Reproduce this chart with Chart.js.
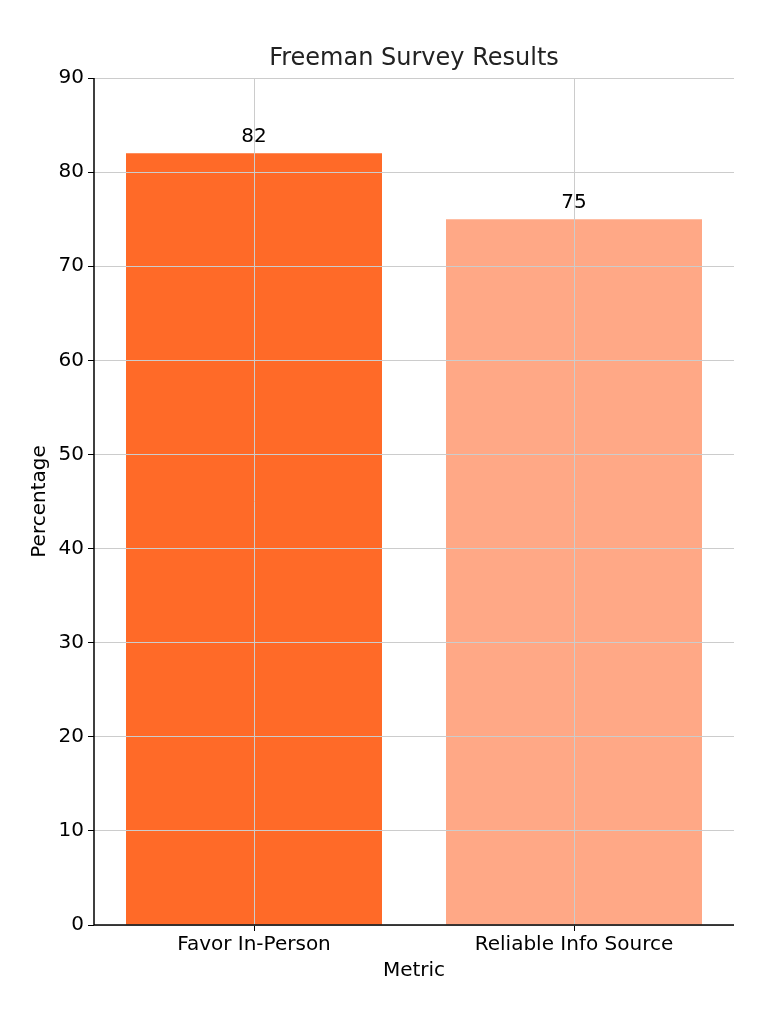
<!DOCTYPE html>
<html><head><meta charset="utf-8">
<script src="https://cdn.jsdelivr.net/npm/chart.js@4"></script>
<style>html,body{margin:0;padding:0;background:#fff}#w{width:772px;height:1020px}</style>
</head><body><div id="w"><canvas id="c"></canvas></div>
<script>
const categories = ["Favor In-Person", "Reliable Info Source"];
const values = [82, 75];
const barColors = ["#FF6A28", "#FFA886"];
const yTicks = [0,10,20,30,40,50,60,70,80,90];
const titleText = "Freeman Survey Results";
const xLabel = "Metric", yLabel = "Percentage";
const F = "'DejaVu Sans', sans-serif";

const deco = {
  id: 'deco',
  afterDraw(chart) {
    const ctx = chart.ctx;
    const meta = chart.getDatasetMeta(0);
    const ca = chart.chartArea;
    ctx.save();
    ctx.fillStyle = '#000';
    ctx.font = "20px " + F;
    ctx.textAlign = 'center';
    ctx.textBaseline = 'bottom';
    meta.data.forEach((b, i) => ctx.fillText(String(values[i]), b.x, b.y - 6));
    ctx.textBaseline = 'middle';
    ctx.fillText(xLabel, (ca.left + ca.right) / 2, 971);
    ctx.save();
    ctx.translate(40, (ca.top + ca.bottom) / 2);
    ctx.rotate(-Math.PI / 2);
    ctx.fillText(yLabel, 0, 0);
    ctx.restore();
    ctx.fillStyle = '#222';
    ctx.font = "24px " + F;
    ctx.fillText(titleText, (ca.left + ca.right) / 2, 59);
    ctx.strokeStyle = '#000';
    ctx.lineWidth = 1.5;
    ctx.beginPath();
    ctx.moveTo(ca.left, ca.top); ctx.lineTo(ca.left, ca.bottom); ctx.lineTo(ca.right, ca.bottom);
    ctx.stroke();
    ctx.restore();
  }
};

new Chart(document.getElementById('c'), {
  type: 'bar',
  data: { labels: categories, datasets: [{ data: values, backgroundColor: barColors, categoryPercentage: 0.8, barPercentage: 1.0 }] },
  options: {
    responsive: true, maintainAspectRatio: false, animation: false,
    layout: { padding: { top: 78, right: 38, left: 0, bottom: 0 } },
    plugins: { legend: { display: false }, tooltip: { enabled: false } },
    scales: {
      x: {
        grid: { z: 1, offset: false, color: '#cccccc', lineWidth: 1, tickLength: 6, tickColor: '#000' },
        border: { display: false },
        ticks: { color: '#000', font: { size: 20, family: F }, padding: 2 },
        afterFit(s) { s.height = 95; }
      },
      y: {
        min: 0, max: 90,
        afterBuildTicks(s) { s.ticks = yTicks.map(v => ({ value: v })); },
        grid: { z: 1, color: '#cccccc', lineWidth: 1, tickLength: 6, tickColor: '#000' },
        border: { display: false },
        ticks: { color: '#000', font: { size: 20, family: F }, padding: 4 },
        afterFit(s) { s.width = 94; }
      }
    }
  },
  plugins: [deco]
});
</script></body></html>
